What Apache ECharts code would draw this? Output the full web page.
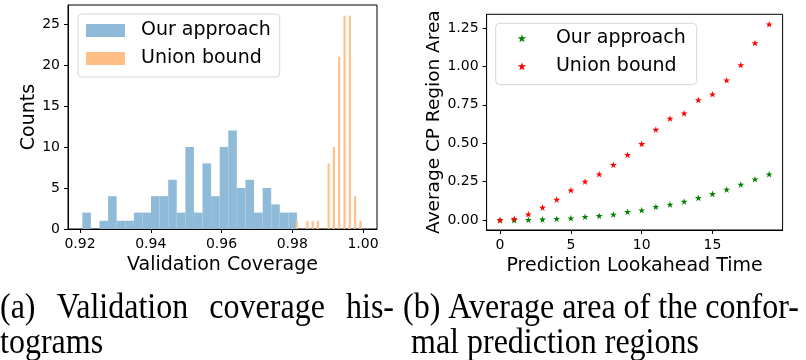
<!DOCTYPE html>
<html>
<head>
<meta charset="utf-8">
<script src="https://cdn.jsdelivr.net/npm/echarts@6/dist/echarts.min.js"></script>
<style>
  html, body { margin: 0; padding: 0; background: #fff; }
  #chart { width: 806px; height: 360px; }
</style>
</head>
<body>
<div id="chart"></div>
<script>
// (a) validation coverage histograms (100 runs per method)
const oursBinStart = 0.92065
const oursBinWidth = 0.002427
const oursCounts = [2, 0, 1, 4, 1, 1, 2, 2, 4, 4, 6, 2, 10, 2, 8, 4, 10, 12, 5, 6, 2, 5, 3, 2, 2]

const unionBinStart = 0.98052
const unionBinWidth = 0.0015
const unionCounts = [1, 0, 1, 1, 1, 0, 8, 10, 21, 26, 26, 4, 1]

const coverageTicks = [0.92, 0.94, 0.96, 0.98, 1.0]
const countTicks = [0, 5, 10, 15, 20, 25]

// (b) average CP region area vs lookahead
const lookahead = [0, 1, 2, 3, 4, 5, 6, 7, 8, 9, 10, 11, 12, 13, 14, 15, 16, 17, 18, 19]
const oursArea = [0.0, 0.0, 0.002, 0.005, 0.009, 0.013, 0.022, 0.028, 0.037, 0.054,
  0.065, 0.087, 0.102, 0.121, 0.145, 0.171, 0.199, 0.232, 0.266, 0.299]
const unionArea = [0.0, 0.009, 0.039, 0.082, 0.134, 0.195, 0.251, 0.299, 0.36, 0.425,
  0.496, 0.589, 0.661, 0.695, 0.782, 0.819, 0.91, 1.009, 1.152, 1.274]
const lookaheadTicks = [0, 5, 10, 15]
const areaTicks = [0, 0.25, 0.5, 0.75, 1.0, 1.25]

const legendText = {
  histOurs: 'Our approach',
  histUnion: 'Union bound',
  areaOurs: 'Our approach',
  areaUnion: 'Union bound'
}

const FONT = 'DejaVu Sans'
const SERIF = 'Liberation Serif'
const BLUE = '#8fbbd9'
const ORANGE = '#ffbf86'

function toBins(start, width, counts) {
  return counts.map((c, i) => [start + i * width, start + (i + 1) * width, c])
}

// matplotlib-like 5 point star
function starPath() {
  const pts = []
  for (let i = 0; i < 10; i++) {
    const r = i % 2 ? 0.381966 : 1
    const a = Math.PI / 2 + i * Math.PI / 5
    pts.push([50 + 50 * r * Math.cos(a), 50 - 50 * r * Math.sin(a)])
  }
  return 'path://M' + pts.map((p) => p[0].toFixed(2) + ',' + p[1].toFixed(2)).join('L') + 'Z'
}
const STAR = starPath()

function histItem(frac) {
  return (params, api) => {
    const x0 = api.value(0)
    const x1 = api.value(1)
    const c = api.value(2)
    if (!c) return
    const mid = (x0 + x1) / 2
    const half = ((x1 - x0) * frac) / 2
    const p0 = api.coord([mid - half, c])
    const p1 = api.coord([mid + half, 0])
    return {
      type: 'rect',
      shape: { x: p0[0], y: p0[1], width: p1[0] - p0[0], height: p1[1] - p0[1] },
      style: { fill: api.visual('color') }
    }
  }
}

function axisBase(ticks, fmt) {
  return {
    axisLine: { show: true, onZero: false, lineStyle: { color: '#000', width: 1 } },
    axisTick: { show: true, length: 4, customValues: ticks, lineStyle: { color: '#000' } },
    axisLabel: {
      customValues: ticks,
      formatter: fmt,
      color: '#000',
      fontFamily: FONT,
      fontSize: 14
    },
    splitLine: { show: false },
    nameTextStyle: { fontFamily: FONT, fontSize: 19, color: '#000' }
  }
}

function legendBox(pos, pad, names, icon, iconW, iconH, textPad) {
  return Object.assign({
    orient: 'vertical',
    data: names.map((n) => ({ name: n, icon: icon })),
    formatter: (n) => legendText[n],
    itemWidth: iconW,
    itemHeight: iconH,
    itemGap: 9,
    padding: pad,
    borderColor: '#d6d6d6',
    borderWidth: 1,
    borderRadius: 4,
    backgroundColor: 'rgba(255,255,255,0.8)',
    selectedMode: false,
    textStyle: { fontFamily: FONT, fontSize: 19, color: '#000', lineHeight: 19, padding: [0, 0, 0, textPad] }
  }, pos)
}

const chart = echarts.init(document.getElementById('chart'), null, { renderer: 'canvas' })

// caption text: LaTeX subcaption look, slightly tall glyphs
const CAP_FONT = '32px "' + SERIF + '"'
const CAP_SY = 1.12
const measure = document.createElement('canvas').getContext('2d')
measure.font = CAP_FONT
function captionLine(text, x, y) {
  return {
    type: 'text', x: x, y: y, scaleY: CAP_SY,
    style: { text: text, font: CAP_FONT, fill: '#000', verticalAlign: 'top' }
  }
}
function justified(words, x0, x1, y) {
  const widths = words.map((w) => measure.measureText(w).width)
  const gap = (x1 - x0 - widths.reduce((a, b) => a + b, 0)) / (words.length - 1)
  let x = x0
  return words.map((w, i) => {
    const el = captionLine(w, x, y)
    x += widths[i] + gap
    return el
  })
}

chart.setOption({
  animation: false,
  grid: [
    { left: 68, top: 5, width: 309, height: 224, show: true, borderColor: '#000', borderWidth: 1, backgroundColor: 'transparent' },
    { left: 486.6, top: 14.3, width: 296, height: 215.7, show: true, borderColor: '#000', borderWidth: 1, backgroundColor: 'transparent' }
  ],
  xAxis: [
    Object.assign(axisBase(coverageTicks, (v) => v.toFixed(2)), {
      type: 'value', gridIndex: 0, min: 0.9166, max: 1.00395,
      name: 'Validation Coverage', nameLocation: 'middle', nameGap: 24
    }),
    Object.assign(axisBase(lookaheadTicks, (v) => String(v)), {
      type: 'value', gridIndex: 1, min: -0.95, max: 19.95,
      name: 'Prediction Lookahead Time', nameLocation: 'middle', nameGap: 23
    })
  ],
  yAxis: [
    Object.assign(axisBase(countTicks, (v) => String(v)), {
      type: 'value', gridIndex: 0, min: 0, max: 27.3,
      name: 'Counts', nameLocation: 'middle', nameGap: 26
    }),
    Object.assign(axisBase(areaTicks, (v) => v.toFixed(2)), {
      type: 'value', gridIndex: 1, min: -0.064, max: 1.339,
      name: 'Average CP Region Area', nameLocation: 'middle', nameGap: 42,
      nameTextStyle: { fontFamily: FONT, fontSize: 18.5, color: '#000' }
    })
  ],
  legend: [
    legendBox({ left: 78, top: 14 }, [7, 9, 9, 8], ['histOurs', 'histUnion'], 'rect', 39, 13, 11),
    legendBox({ left: 495.7, top: 23.3 }, [5.5, 11, 8.8, 22], ['areaOurs', 'areaUnion'], STAR, 38, 8, 10)
  ],
  series: [
    {
      name: 'histOurs',
      type: 'custom',
      xAxisIndex: 0,
      yAxisIndex: 0,
      itemStyle: { color: BLUE },
      encode: { x: [0, 1], y: 2 },
      renderItem: histItem(1),
      data: toBins(oursBinStart, oursBinWidth, oursCounts)
    },
    {
      name: 'histUnion',
      type: 'custom',
      xAxisIndex: 0,
      yAxisIndex: 0,
      itemStyle: { color: ORANGE },
      encode: { x: [0, 1], y: 2 },
      renderItem: histItem(0.4),
      data: toBins(unionBinStart, unionBinWidth, unionCounts)
    },
    {
      name: 'areaOurs',
      type: 'scatter',
      xAxisIndex: 1,
      yAxisIndex: 1,
      symbol: STAR,
      symbolSize: 7,
      symbolKeepAspect: true,
      itemStyle: { color: '#008000', opacity: 1 },
      data: lookahead.map((t, i) => [t, oursArea[i]])
    },
    {
      name: 'areaUnion',
      type: 'scatter',
      xAxisIndex: 1,
      yAxisIndex: 1,
      symbol: STAR,
      symbolSize: 7,
      symbolKeepAspect: true,
      itemStyle: { color: '#ff0000', opacity: 1 },
      data: lookahead.map((t, i) => [t, unionArea[i]])
    }
  ],
  graphic: [
    ...justified(['(a)', 'Validation', 'coverage', 'his-'], 0, 394, 291),
    captionLine('tograms', 0, 325.5),
    captionLine('(b) Average area of the confor-', 403, 291),
    captionLine('mal prediction regions', 411, 325.5)
  ]
})
</script>
</body>
</html>
